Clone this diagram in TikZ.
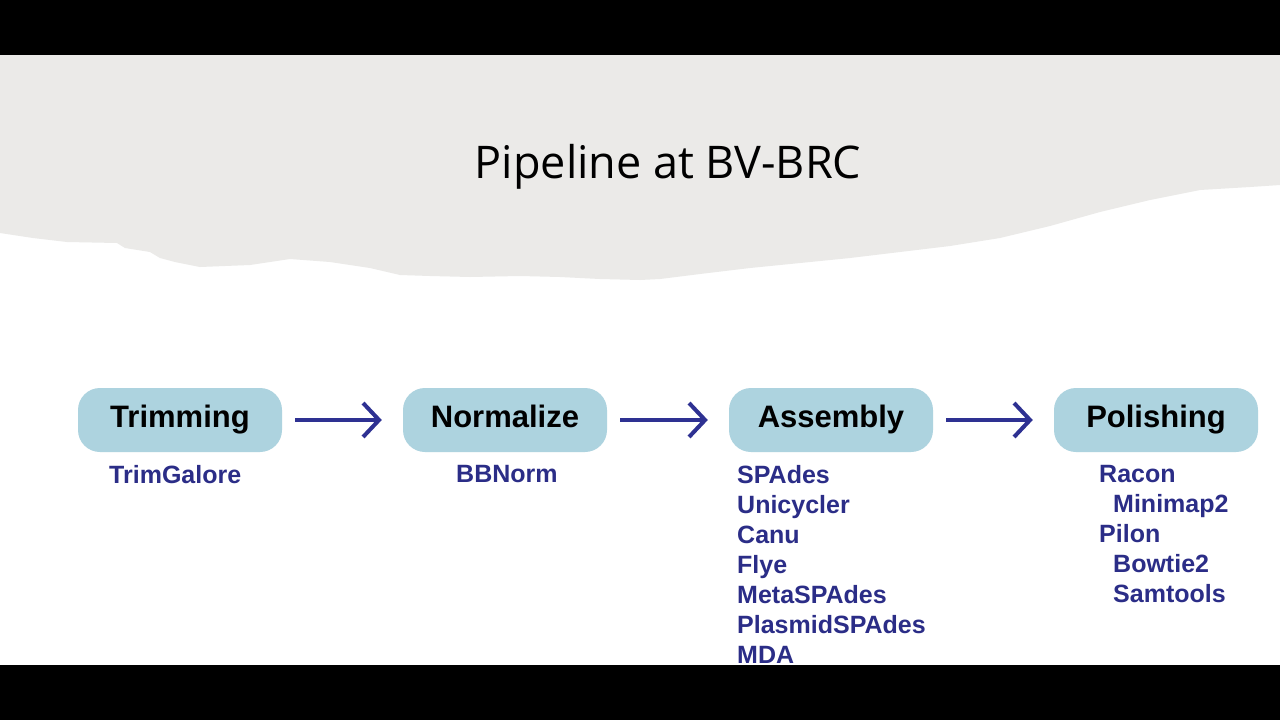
\documentclass[tikz,border=0pt]{standalone}
\usepackage{fontspec}
\setmainfont{Liberation Sans}
\newfontfamily\titlefont{Open Sans}
\usetikzlibrary{arrows.meta,positioning}
\definecolor{paper}{RGB}{235,234,232}
\definecolor{stageblue}{RGB}{173,211,223}
\definecolor{toolblue}{RGB}{43,45,135}
\definecolor{arrowblue}{RGB}{46,49,146}

\begin{document}
\begin{tikzpicture}[x=1pt,y=-1pt,
    stage/.style={rounded corners=22pt, fill=stageblue, minimum width=204pt, minimum height=64pt, inner sep=0pt, text height=22pt, text depth=8pt, font=\fontsize{31}{32}\selectfont\bfseries},
    tool/.style={anchor=north west, align=left, inner sep=0pt, text=toolblue, font=\fontsize{25}{30}\selectfont\bfseries},
    flow/.style={line width=4pt, arrowblue, -{Straight Barb[length=16pt,width=34pt,line width=4pt]}, shorten <=13pt, shorten >=21pt},
]
    % frame and torn banner
    \fill[black] (0,0) rectangle (1280,720);
    \fill[white] (0,55) rectangle (1280,665);
    \fill[paper] (0,55) -- (1280,55) -- (1280,185) -- (1250,187) -- (1200,190) -- (1150,200)
        -- (1100,212) -- (1050,226) -- (1000,238) -- (950,246) -- (900,252) -- (850,258)
        -- (800,263) -- (750,268) -- (700,274) -- (660,279) -- (640,280) -- (600,279)
        -- (560,277) -- (520,276) -- (470,277) -- (430,276) -- (400,275) -- (370,268)
        -- (330,262) -- (290,259) -- (250,265) -- (200,267) -- (175,262) -- (160,258)
        -- (150,252) -- (125,248) -- (117,243) -- (67,242) -- (33,238) -- (0,233) -- cycle;
    \node[font=\titlefont\fontsize{45}{48}\selectfont] (title) at (668,167) {Pipeline at BV-BRC};

    % stages
    \node[stage] (trim) at (180,420) {Trimming};
    \node[stage] (norm) at (505,420) {Normalize};
    \node[stage] (asm) at (831,420) {Assembly};
    \node[stage] (pol) at (1156,420) {Polishing};
    \draw[flow] (trim) -- (norm);
    \draw[flow] (norm) -- (asm);
    \draw[flow] (asm) -- (pol);

    % tools under each stage
    \node[tool] (trimtools) at (109,465) {TrimGalore};
    \node[tool] (normtools) at (456,465) {BBNorm};
    \node[tool] (asmtools) at (737,465) {SPAdes\\Unicycler\\Canu\\Flye\\MetaSPAdes\\PlasmidSPAdes\\MDA};
    \node[tool] (poltools) at (1099,465) {Racon\\\hspace{14pt}Minimap2\\Pilon\\\hspace{14pt}Bowtie2\\\hspace{14pt}Samtools};

    \fill[black] (0,665) rectangle (1280,720);
\end{tikzpicture}
\end{document}
